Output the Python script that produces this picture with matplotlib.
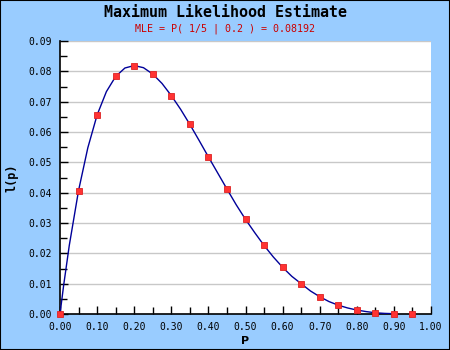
import numpy as np
import matplotlib
matplotlib.use("Agg")
import matplotlib.pyplot as plt
from matplotlib.ticker import MultipleLocator, FormatStrFormatter

# 데이터
p_points = [0.00, 0.05, 0.10, 0.15, 0.20, 0.25, 0.30, 0.35, 0.40, 0.45,
            0.50, 0.55, 0.60, 0.65, 0.70, 0.75, 0.80, 0.85, 0.90, 0.95]
l_points = [0.0000, 0.0407, 0.0656, 0.0783, 0.0819, 0.0791, 0.0720, 0.0625, 0.0518, 0.0412,
            0.0312, 0.0226, 0.0154, 0.0100, 0.0057, 0.0029, 0.0013, 0.0004, 0.0001, 0.0000]

# 곡선 (촘촘하게 읽은 값)
p_curve = [0.0, 0.01, 0.025, 0.05, 0.075, 0.1, 0.125, 0.15, 0.175, 0.2,
           0.225, 0.25, 0.275, 0.3, 0.325, 0.35, 0.375, 0.4, 0.425, 0.45,
           0.475, 0.5, 0.525, 0.55, 0.575, 0.6, 0.625, 0.65, 0.675, 0.7,
           0.725, 0.75, 0.775, 0.8, 0.825, 0.85, 0.875, 0.9]
l_curve = [0.0, 0.0096, 0.0226, 0.0407, 0.0548, 0.0656, 0.0733, 0.0783, 0.0811, 0.0819,
           0.0812, 0.0791, 0.0760, 0.0720, 0.0675, 0.0625, 0.0572, 0.0518, 0.0465, 0.0412,
           0.0360, 0.0312, 0.0268, 0.0226, 0.0188, 0.0154, 0.0124, 0.0100, 0.0076, 0.0057,
           0.0041, 0.0029, 0.0020, 0.0013, 0.0008, 0.0004, 0.0002, 0.0001]

BG = "#99ccff"
MONO = "DejaVu Sans Mono"

fig = plt.figure(figsize=(4.5, 3.5), dpi=100, facecolor=BG)
# 바깥 테두리
fig.patches.append(plt.Rectangle((0, 0), 1, 1, transform=fig.transFigure,
                                 fill=False, edgecolor="black", linewidth=1.5))

ax = fig.add_axes([60 / 450, 36 / 350, 371 / 450, 273 / 350])
ax.set_facecolor("white")

ax.plot(p_curve, l_curve, color="#000099", linewidth=1.0, zorder=3)
ax.plot(p_points, l_points, linestyle="none", marker="s", markersize=4.5,
        markerfacecolor="#ff3333", markeredgecolor="#dd2222", markeredgewidth=0.6,
        zorder=4, clip_on=False)

ax.set_xlim(0, 1.0)
ax.set_ylim(0, 0.09)
ax.xaxis.set_major_locator(MultipleLocator(0.1))
ax.xaxis.set_minor_locator(MultipleLocator(0.05))
ax.yaxis.set_major_locator(MultipleLocator(0.01))
ax.yaxis.set_minor_locator(MultipleLocator(0.005))
ax.xaxis.set_major_formatter(FormatStrFormatter("%.2f"))
ax.yaxis.set_major_formatter(FormatStrFormatter("%.2f"))

ax.grid(axis="y", which="major", color="#c8c8c8", linewidth=1.0, zorder=1)
ax.set_axisbelow(True)

for s in ["top", "right"]:
    ax.spines[s].set_visible(False)
for s in ["left", "bottom"]:
    ax.spines[s].set_color("black")
    ax.spines[s].set_linewidth(1.2)

ax.tick_params(which="both", direction="in", color="black", width=1.0)
ax.tick_params(which="major", length=6, labelsize=7, pad=6)
ax.tick_params(which="minor", length=5)
for lbl in ax.get_xticklabels() + ax.get_yticklabels():
    lbl.set_family(MONO)

ax.set_xlabel("P", fontsize=8, fontweight="bold", labelpad=3)
ax.set_ylabel("l(p)", fontsize=8.5, fontweight="bold", family=MONO, labelpad=7)

fig.text(0.5, 1 - 12.5 / 350, "Maximum Likelihood Estimate", ha="center", va="center",
         fontsize=10.8, fontweight="bold", family=MONO)
fig.text(0.5, 1 - 29 / 350, "MLE = P( 1/5 | 0.2 ) = 0.08192", ha="center", va="center",
         fontsize=7.2, color="#cc0000", family=MONO)

fig.savefig("out.png", dpi=100, facecolor=BG)
